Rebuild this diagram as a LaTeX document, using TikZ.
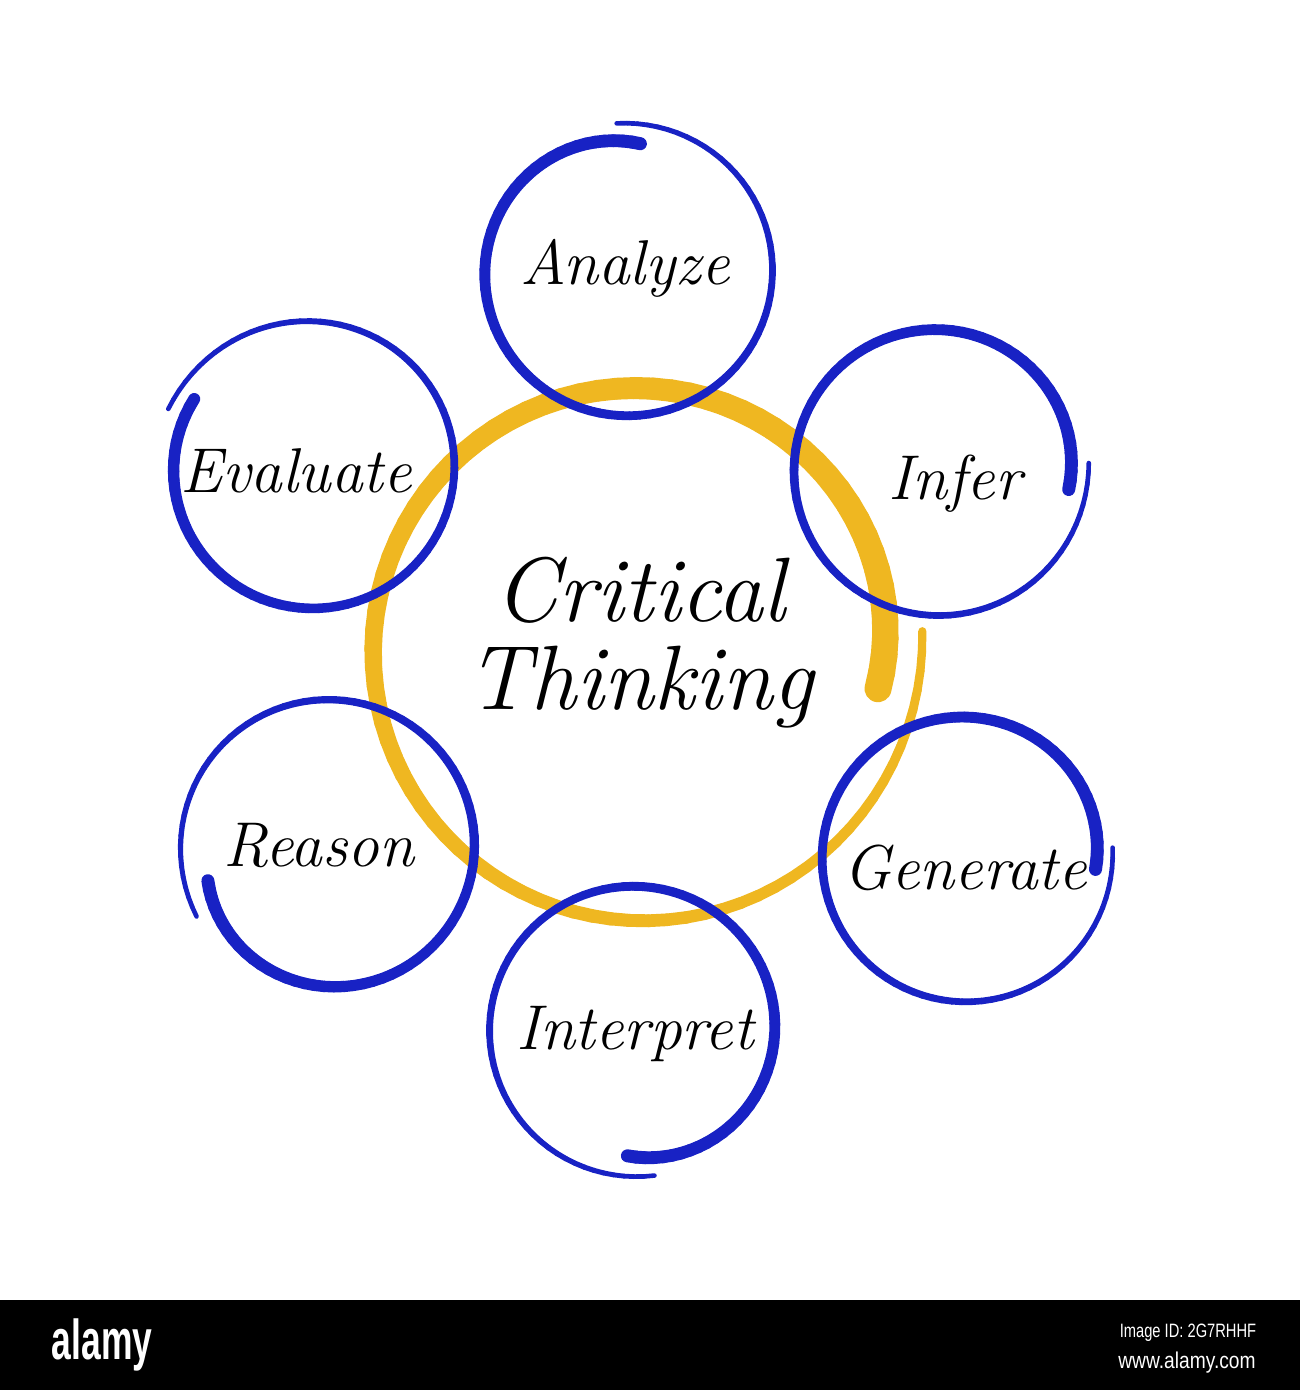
\documentclass[tikz,border=0pt]{standalone}
\usepackage{fontspec}
\newfontfamily\markfont{Liberation Sans}
\definecolor{ringblue}{RGB}{24,34,196}
\definecolor{ringgold}{RGB}{239,183,33}

\tikzset{
    ring label/.style={anchor=base, font=\fontsize{18}{21}\selectfont\itshape},
    hub label/.style={align=center, font=\fontsize{26}{25}\selectfont\itshape},
    logo label/.style={text=white, font=\markfont\bfseries\fontsize{16}{16}\selectfont},
    id label/.style={text=white, font=\markfont\fontsize{5.5}{6}\selectfont},
    site label/.style={text=white, font=\markfont\fontsize{6.5}{7}\selectfont},
}

\begin{document}
\begin{tikzpicture}[x=0.01cm, y=0.01cm]
    \useasboundingbox (0,0) rectangle (1300,1390);
    \fill[white] (0,0) rectangle (1300,1390);

    % Brush rings: centre, mid radius, inner/outer drift, start angle, sweep, widths
    \foreach \cx/\cy/\rr/\din/\dout/\ang/\sweep/\wmax/\wmin/\col in {
        640/739/267/26/16/-9/373/27/8/ringgold,
        627/1119/145/17/3/84/370/13/4.5/ringblue,
        937/919/143/10/9/-8/371/13/4.5/ringblue,
        312/923/142/6/13/150/368/12/4.5/ringblue,
        965/532/143/12/5/-5/369/13/4.5/ringblue,
        329/544/146/20/4/196/372/13/4.5/ringblue,
        634/360/144/18/3/267/371/13/4.5/ringblue} {
        \foreach \i in {0,...,92} {
            \pgfmathsetmacro\sa{\i/93}
            \pgfmathsetmacro\sb{(\i+1)/93}
            \pgfmathsetmacro\ta{\ang+\sweep*\sa}
            \pgfmathsetmacro\tb{\ang+\sweep*\sb}
            \pgfmathsetmacro\ra{\rr-\din*(1-\sa)^6+\dout*\sa^6}
            \pgfmathsetmacro\rb{\rr-\din*(1-\sb)^6+\dout*\sb^6}
            \pgfmathsetmacro\w{\wmin+(\wmax-\wmin)*(1-\sa)}
            \draw[\col, line cap=round, line width=\w*0.01cm]
                ({\cx+\ra*cos(\ta)}, {\cy+\ra*sin(\ta)}) -- ({\cx+\rb*cos(\tb)}, {\cy+\rb*sin(\tb)});
        }
    }

    % Labels
    \node[hub label] (hub) at (640,747) {Critical\\Thinking};
    \foreach \name/\px/\py/\txt in {analyze/625/1105/Analyze, infer/955/890/Infer,
        evaluate/296/897/Evaluate, generate/965/500/Generate,
        reason/319/523/Reason, interpret/635/340/Interpret} {
        \node[ring label] (\name) at (\px,\py) {\txt};
    }

    % Stock banner
    \fill[black] (0,0) rectangle (1300,90);
    \node[logo label] (logo) at (102,45) {\scalebox{0.63}[1]{alamy}};
    \node[id label] (imageid) at (1188,57) {\scalebox{0.76}[1]{Image ID: 2G7RHHF}};
    \node[site label] (site) at (1187,27) {\scalebox{0.84}[1]{www.alamy.com}};
\end{tikzpicture}
\end{document}
